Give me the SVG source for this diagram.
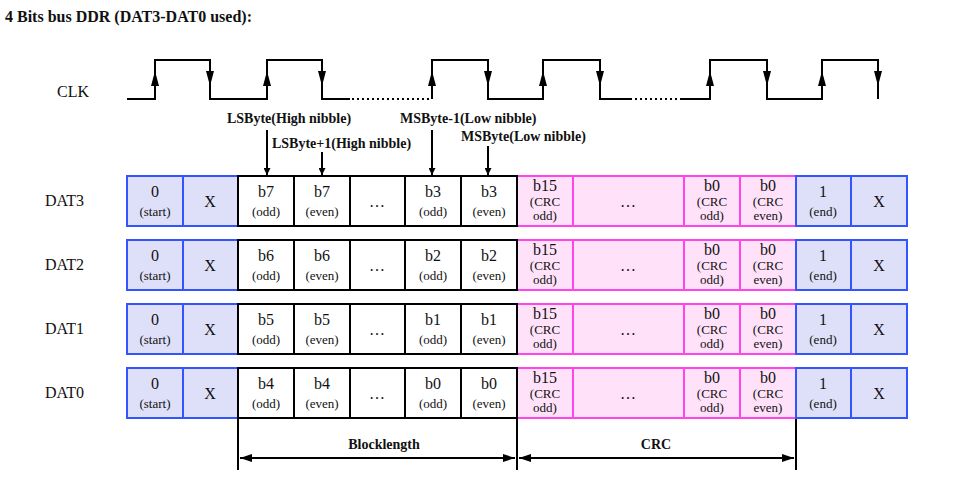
<svg xmlns="http://www.w3.org/2000/svg" width="953" height="483" viewBox="0 0 953 483">
<style>
text{font-family:'Liberation Serif','Times New Roman',serif;fill:#111}
.t{font-size:16px;font-weight:bold}
.lab{font-size:16px}
.b{font-size:16px;text-anchor:middle}
.s{font-size:13px;text-anchor:middle}
.bl{font-size:14px;font-weight:bold}
.blue{fill:#dde0f8;stroke:#3355ff;stroke-width:2}
.pink{fill:#ffe2fa;stroke:#ff44ee;stroke-width:2}
.dat{fill:#fff;stroke:#000;stroke-width:2}
.ln{fill:none;stroke:#000;stroke-width:2}
</style>
<defs>
<marker id="ar" viewBox="0 0 10 10" refX="10" refY="5" markerWidth="7" markerHeight="7" orient="auto-start-reverse" markerUnits="userSpaceOnUse"><path d="M0,0L10,5L0,10z" fill="#000"/></marker>
<marker id="ah" viewBox="0 0 10 10" refX="10" refY="5" markerWidth="12" markerHeight="8" orient="auto-start-reverse" markerUnits="userSpaceOnUse" preserveAspectRatio="none"><path d="M0,0L10,5L0,10z" fill="#000"/></marker>
</defs>
<text class="t" x="5" y="22">4 Bits bus DDR (DAT3-DAT0 used):</text>
<g id="clk">
<text class="lab" x="57" y="97">CLK</text>
<path class="ln" d="M127,99H155V60H210V99H267V60H322V99H350M432,99V60H488V99H543V60H600V99H630M682,99H710V60H767V99H822V60H878V99"/>
<path class="ln" d="M352,99H432M630,99H682" stroke-dasharray="2,3"/>
<g fill="#000">
<path d="M151,86L155,71L159,86z"/><path d="M263,86L267,71L271,86z"/><path d="M428,86L432,71L436,86z"/><path d="M539,86L543,71L547,86z"/><path d="M706,86L710,71L714,86z"/><path d="M818,86L822,71L826,86z"/>
<path d="M206,71L210,86L214,71z"/><path d="M318,71L322,86L326,71z"/><path d="M484,71L488,86L492,71z"/><path d="M596,71L600,86L604,71z"/><path d="M763,71L767,86L771,71z"/><path d="M874,71L878,86L882,71z"/>
</g>
</g>
<g id="labels">
<text class="bl" x="227" y="123">LSByte(High nibble)</text>
<text class="bl" x="272" y="148">LSByte+1(High nibble)</text>
<text class="bl" x="400" y="123">MSByte-1(Low nibble)</text>
<text class="bl" x="461" y="141">MSByte(Low nibble)</text>
</g>
<g id="connectors">
<line class="ln" x1="267" y1="130" x2="267" y2="175" marker-end="url(#ar)"/>
<line class="ln" x1="322" y1="152" x2="322" y2="175" marker-end="url(#ar)"/>
<line class="ln" x1="432" y1="130" x2="432" y2="175" marker-end="url(#ar)"/>
<line class="ln" x1="488" y1="146" x2="488" y2="175" marker-end="url(#ar)"/>
<path class="ln" d="M238,418V470M517,418V470M796,418V470"/>
<line class="ln" x1="240" y1="458" x2="515" y2="458" marker-start="url(#ah)" marker-end="url(#ah)"/>
<line class="ln" x1="519" y1="458" x2="794" y2="458" marker-start="url(#ah)" marker-end="url(#ah)"/>
<text class="bl" x="384" y="449" text-anchor="middle">Blocklength</text>
<text class="bl" x="656" y="449" text-anchor="middle">CRC</text>
</g>
<g id="rows">
<g id="dat3" transform="translate(0,176)">
<text class="lab" x="45" y="30">DAT3</text>
<rect class="blue" x="127" y="0" width="56" height="50"/><rect class="blue" x="183" y="0" width="55" height="50"/>
<rect class="pink" x="517" y="0" width="56" height="50"/><rect class="pink" x="573" y="0" width="111" height="50"/><rect class="pink" x="684" y="0" width="56" height="50"/><rect class="pink" x="740" y="0" width="56" height="50"/>
<rect class="blue" x="796" y="0" width="55" height="50"/><rect class="blue" x="851" y="0" width="56" height="50"/>
<rect class="dat" x="238" y="0" width="56" height="50"/><rect class="dat" x="294" y="0" width="56" height="50"/><rect class="dat" x="350" y="0" width="55" height="50"/><rect class="dat" x="405" y="0" width="56" height="50"/><rect class="dat" x="461" y="0" width="56" height="50"/>
<text class="b" x="155" y="21">0</text><text class="s" x="155" y="40">(start)</text>
<text class="b" x="210" y="31">X</text>
<text class="b" x="266" y="21">b7</text><text class="s" x="266" y="40">(odd)</text>
<text class="b" x="322" y="21">b7</text><text class="s" x="322" y="40">(even)</text>
<text class="b" x="377" y="31">…</text>
<text class="b" x="433" y="21">b3</text><text class="s" x="433" y="40">(odd)</text>
<text class="b" x="489" y="21">b3</text><text class="s" x="489" y="40">(even)</text>
<text class="b" x="545" y="15">b15</text><text class="s" x="545" y="30">(CRC</text><text class="s" x="545" y="44">odd)</text>
<text class="b" x="628" y="31">…</text>
<text class="b" x="712" y="15">b0</text><text class="s" x="712" y="30">(CRC</text><text class="s" x="712" y="44">odd)</text>
<text class="b" x="768" y="15">b0</text><text class="s" x="768" y="30">(CRC</text><text class="s" x="768" y="44">even)</text>
<text class="b" x="823" y="21">1</text><text class="s" x="823" y="40">(end)</text>
<text class="b" x="879" y="31">X</text>
</g>
<g id="dat2" transform="translate(0,240)">
<text class="lab" x="45" y="30">DAT2</text>
<rect class="blue" x="127" y="0" width="56" height="50"/><rect class="blue" x="183" y="0" width="55" height="50"/>
<rect class="pink" x="517" y="0" width="56" height="50"/><rect class="pink" x="573" y="0" width="111" height="50"/><rect class="pink" x="684" y="0" width="56" height="50"/><rect class="pink" x="740" y="0" width="56" height="50"/>
<rect class="blue" x="796" y="0" width="55" height="50"/><rect class="blue" x="851" y="0" width="56" height="50"/>
<rect class="dat" x="238" y="0" width="56" height="50"/><rect class="dat" x="294" y="0" width="56" height="50"/><rect class="dat" x="350" y="0" width="55" height="50"/><rect class="dat" x="405" y="0" width="56" height="50"/><rect class="dat" x="461" y="0" width="56" height="50"/>
<text class="b" x="155" y="21">0</text><text class="s" x="155" y="40">(start)</text>
<text class="b" x="210" y="31">X</text>
<text class="b" x="266" y="21">b6</text><text class="s" x="266" y="40">(odd)</text>
<text class="b" x="322" y="21">b6</text><text class="s" x="322" y="40">(even)</text>
<text class="b" x="377" y="31">…</text>
<text class="b" x="433" y="21">b2</text><text class="s" x="433" y="40">(odd)</text>
<text class="b" x="489" y="21">b2</text><text class="s" x="489" y="40">(even)</text>
<text class="b" x="545" y="15">b15</text><text class="s" x="545" y="30">(CRC</text><text class="s" x="545" y="44">odd)</text>
<text class="b" x="628" y="31">…</text>
<text class="b" x="712" y="15">b0</text><text class="s" x="712" y="30">(CRC</text><text class="s" x="712" y="44">odd)</text>
<text class="b" x="768" y="15">b0</text><text class="s" x="768" y="30">(CRC</text><text class="s" x="768" y="44">even)</text>
<text class="b" x="823" y="21">1</text><text class="s" x="823" y="40">(end)</text>
<text class="b" x="879" y="31">X</text>
</g>
<g id="dat1" transform="translate(0,304)">
<text class="lab" x="45" y="30">DAT1</text>
<rect class="blue" x="127" y="0" width="56" height="50"/><rect class="blue" x="183" y="0" width="55" height="50"/>
<rect class="pink" x="517" y="0" width="56" height="50"/><rect class="pink" x="573" y="0" width="111" height="50"/><rect class="pink" x="684" y="0" width="56" height="50"/><rect class="pink" x="740" y="0" width="56" height="50"/>
<rect class="blue" x="796" y="0" width="55" height="50"/><rect class="blue" x="851" y="0" width="56" height="50"/>
<rect class="dat" x="238" y="0" width="56" height="50"/><rect class="dat" x="294" y="0" width="56" height="50"/><rect class="dat" x="350" y="0" width="55" height="50"/><rect class="dat" x="405" y="0" width="56" height="50"/><rect class="dat" x="461" y="0" width="56" height="50"/>
<text class="b" x="155" y="21">0</text><text class="s" x="155" y="40">(start)</text>
<text class="b" x="210" y="31">X</text>
<text class="b" x="266" y="21">b5</text><text class="s" x="266" y="40">(odd)</text>
<text class="b" x="322" y="21">b5</text><text class="s" x="322" y="40">(even)</text>
<text class="b" x="377" y="31">…</text>
<text class="b" x="433" y="21">b1</text><text class="s" x="433" y="40">(odd)</text>
<text class="b" x="489" y="21">b1</text><text class="s" x="489" y="40">(even)</text>
<text class="b" x="545" y="15">b15</text><text class="s" x="545" y="30">(CRC</text><text class="s" x="545" y="44">odd)</text>
<text class="b" x="628" y="31">…</text>
<text class="b" x="712" y="15">b0</text><text class="s" x="712" y="30">(CRC</text><text class="s" x="712" y="44">odd)</text>
<text class="b" x="768" y="15">b0</text><text class="s" x="768" y="30">(CRC</text><text class="s" x="768" y="44">even)</text>
<text class="b" x="823" y="21">1</text><text class="s" x="823" y="40">(end)</text>
<text class="b" x="879" y="31">X</text>
</g>
<g id="dat0" transform="translate(0,368)">
<text class="lab" x="45" y="30">DAT0</text>
<rect class="blue" x="127" y="0" width="56" height="50"/><rect class="blue" x="183" y="0" width="55" height="50"/>
<rect class="pink" x="517" y="0" width="56" height="50"/><rect class="pink" x="573" y="0" width="111" height="50"/><rect class="pink" x="684" y="0" width="56" height="50"/><rect class="pink" x="740" y="0" width="56" height="50"/>
<rect class="blue" x="796" y="0" width="55" height="50"/><rect class="blue" x="851" y="0" width="56" height="50"/>
<rect class="dat" x="238" y="0" width="56" height="50"/><rect class="dat" x="294" y="0" width="56" height="50"/><rect class="dat" x="350" y="0" width="55" height="50"/><rect class="dat" x="405" y="0" width="56" height="50"/><rect class="dat" x="461" y="0" width="56" height="50"/>
<text class="b" x="155" y="21">0</text><text class="s" x="155" y="40">(start)</text>
<text class="b" x="210" y="31">X</text>
<text class="b" x="266" y="21">b4</text><text class="s" x="266" y="40">(odd)</text>
<text class="b" x="322" y="21">b4</text><text class="s" x="322" y="40">(even)</text>
<text class="b" x="377" y="31">…</text>
<text class="b" x="433" y="21">b0</text><text class="s" x="433" y="40">(odd)</text>
<text class="b" x="489" y="21">b0</text><text class="s" x="489" y="40">(even)</text>
<text class="b" x="545" y="15">b15</text><text class="s" x="545" y="30">(CRC</text><text class="s" x="545" y="44">odd)</text>
<text class="b" x="628" y="31">…</text>
<text class="b" x="712" y="15">b0</text><text class="s" x="712" y="30">(CRC</text><text class="s" x="712" y="44">odd)</text>
<text class="b" x="768" y="15">b0</text><text class="s" x="768" y="30">(CRC</text><text class="s" x="768" y="44">even)</text>
<text class="b" x="823" y="21">1</text><text class="s" x="823" y="40">(end)</text>
<text class="b" x="879" y="31">X</text>
</g>
</g>
</svg>
